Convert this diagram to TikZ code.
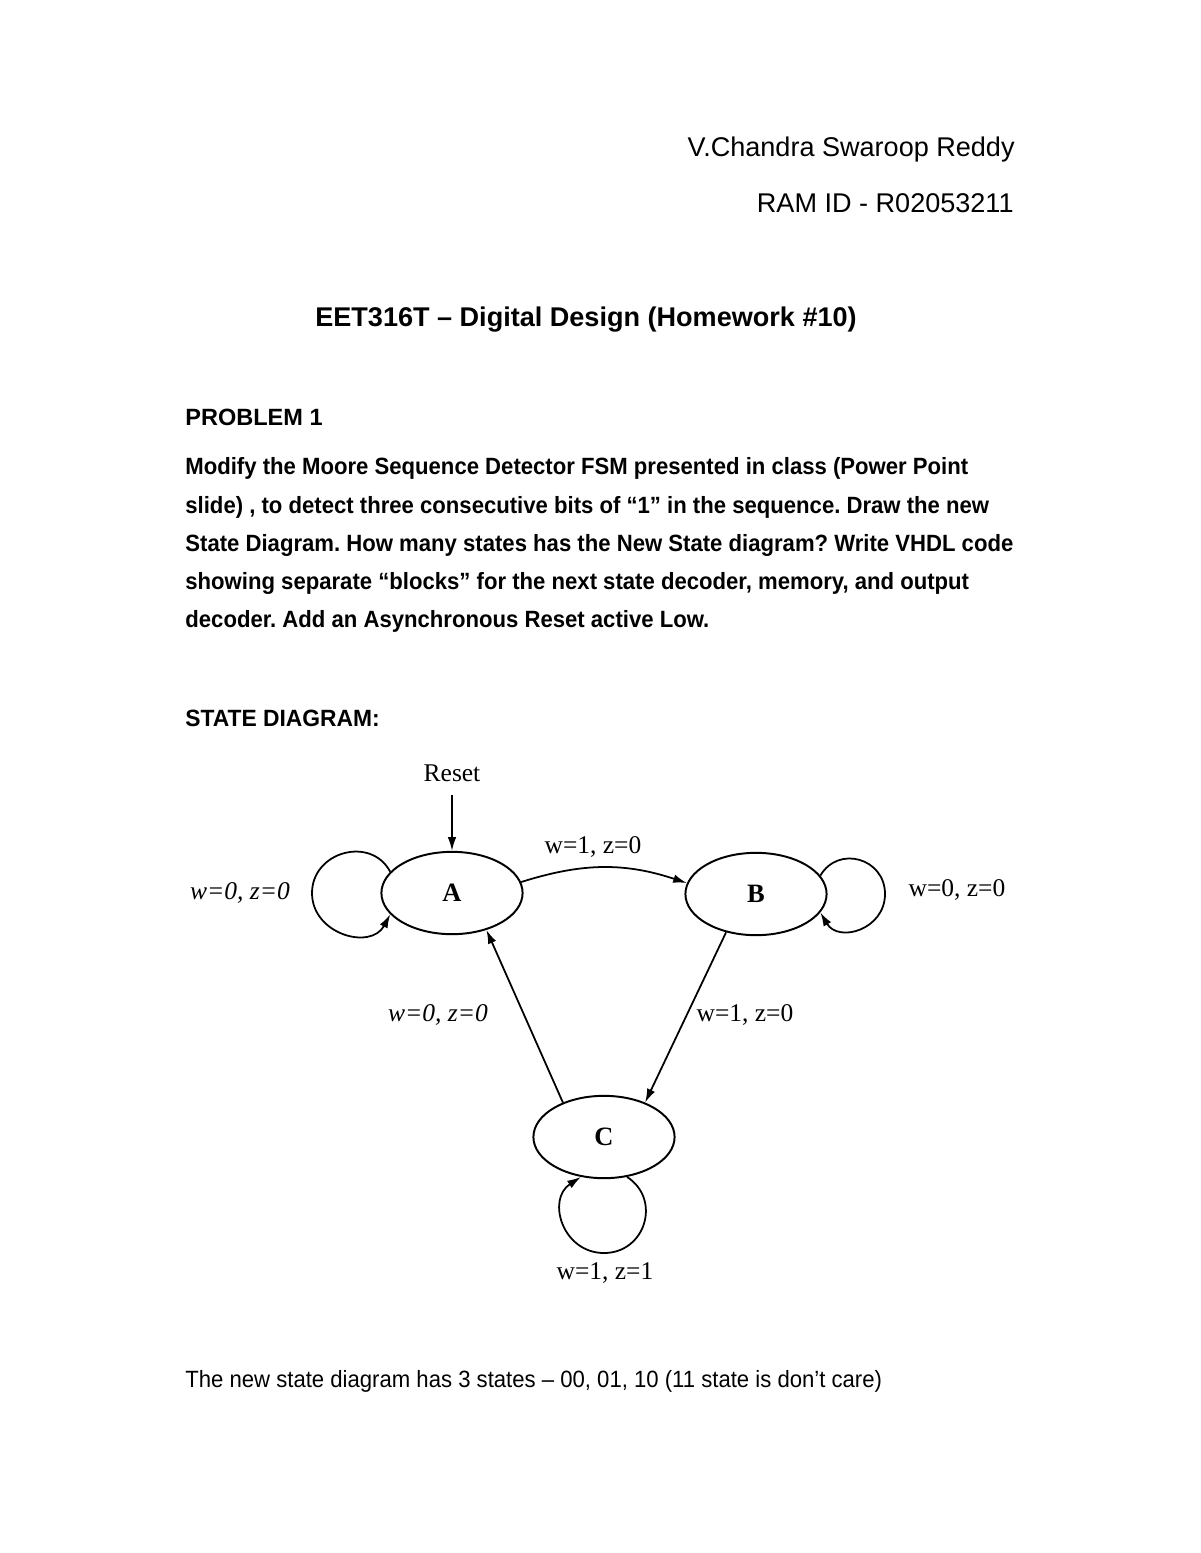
\documentclass[tikz,border=0pt]{standalone}
\usepackage{fontspec}
\usepackage{graphicx}
\setmainfont{Liberation Sans}
\newfontfamily\diagfont{Liberation Serif}
\usetikzlibrary{arrows.meta,positioning,shapes.geometric}
% the page text is set a little narrower than plain Arial
\newcommand{\cond}[1]{\scalebox{0.94}[1]{#1}}
\frenchspacing

\begin{document}
\begin{tikzpicture}[x=0.51pt, y=-0.51pt,
        body/.style={anchor=base west, inner sep=0pt, font=\bfseries\fontsize{12}{14}\selectfont},
        hdr/.style={anchor=base east, inner sep=0pt, font=\fontsize{13.8}{16}\selectfont},
        state/.style={ellipse, draw, line width=1pt, minimum width=72pt, minimum height=42pt,
                      inner sep=0pt, font=\diagfont\bfseries\fontsize{13.5}{15}\selectfont},
        lbl/.style={inner sep=0pt, font=\diagfont\fontsize{13}{15}\selectfont},
        ilbl/.style={lbl, font=\diagfont\itshape\fontsize{13}{15}\selectfont},
        arrow/.style={-{Latex[length=7pt,width=4.4pt]}, line width=0.9pt}
    ]
        \fill[white] (0,0) rectangle (1200,1553);
        \useasboundingbox (0,0) rectangle (1200,1553);

        % header
        \node[hdr] (name) at (1015,157) {V.Chandra Swaroop Reddy};
        \node[hdr] (ramid) at (1014,213) {RAM ID - R02053211};
        \node[body, anchor=base, font=\bfseries\fontsize{13.8}{16}\selectfont] (title) at (586,326) {EET316T – Digital Design (Homework \#10)};

        % problem text
        \node[body] (prob) at (185,425) {PROBLEM 1};
        \node[body] (q1) at (185,474) {\cond{Modify the Moore Sequence Detector FSM presented in class (Power Point}};
        \node[body] (q2) at (185,513) {\cond{slide) , to detect three consecutive bits of “1” in the sequence. Draw the new}};
        \node[body] (q3) at (185,551) {\cond{State Diagram. How many states has the New State diagram? Write VHDL code}};
        \node[body] (q4) at (185,589) {\cond{showing separate “blocks” for the next state decoder, memory, and output}};
        \node[body] (q5) at (185,627) {\cond{decoder. Add an Asynchronous Reset active Low.}};
        \node[body] (sd) at (185,726) {\scalebox{0.97}[1]{STATE DIAGRAM:}};

        % states
        \node[state] (A) at (452,893) {A};
        \node[state] (B) at (756,894) {B};
        \node[state] (C) at (604,1137) {C};

        \node[lbl] (reset) at (452,773) {Reset};
        \coordinate (rst) at (452,795);
        % far points of the self loops
        \coordinate (aloop) at (312,893);
        \coordinate (bloop) at (885,894);
        \coordinate (cloop) at (604,1253);

        % transitions
        \draw[arrow] (rst) -- (A.north);
        \draw[arrow] (A.161) to[out=118, in=90, looseness=1.3] (aloop)
                             to[out=270, in=242, looseness=1.3] (A.199);
        \draw[arrow] (A.9) to[bend left=18] (B.171);
        \draw[arrow] (B.16) to[out=59.5, in=90, looseness=1.36] (bloop)
                            to[out=270, in=300.5, looseness=1.36] (B.-16);
        \draw[arrow] (B.232) -- (C.40);
        \draw[arrow] (C.140) -- (A.313);
        \draw[arrow] (C.300) to[out=327, in=0, looseness=1.33] (cloop)
                             to[out=180, in=213, looseness=1.33] (C.240);

        % labels
        \node[ilbl] (la) at (240,893) {w=0, z=0};
        \node[lbl] (lab) at (593,847) {w=1, z=0};
        \node[lbl] (lb) at (957,890) {w=0, z=0};
        \node[lbl] (lbc) at (745,1015) {w=1, z=0};
        \node[ilbl] (lca) at (438,1015) {w=0, z=0};
        \node[lbl] (lc) at (605,1273) {w=1, z=1};

        \node[body, font=\fontsize{12}{14}\selectfont] (ans) at (185,1387) {\cond{The new state diagram has 3 states – 00, 01, 10 (11 state is don’t care)}};
    \end{tikzpicture}
\end{document}
